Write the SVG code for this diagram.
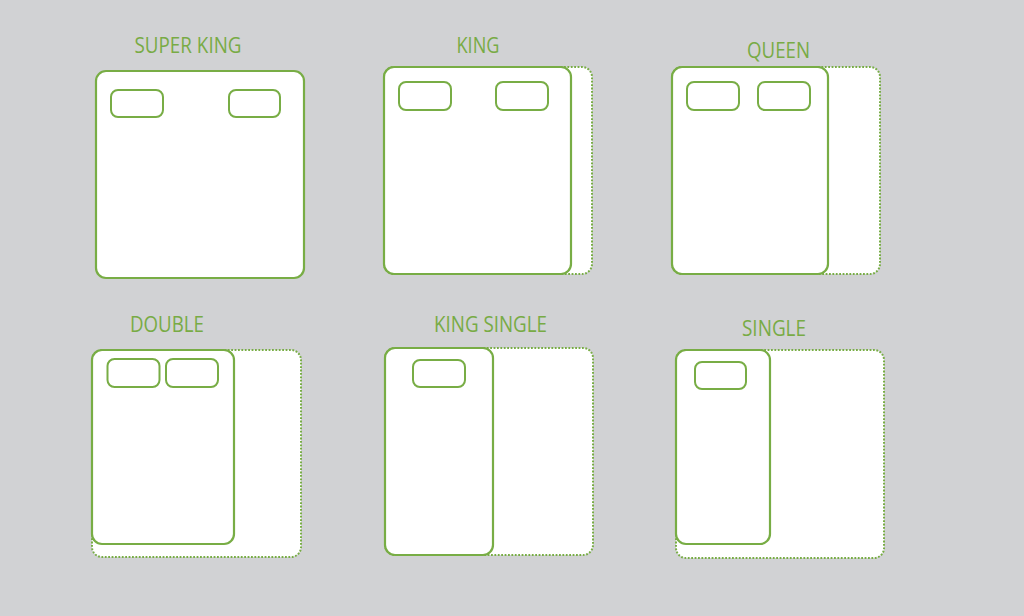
<svg xmlns="http://www.w3.org/2000/svg" width="1024" height="616" viewBox="0 0 1024 616">
<style>
.bg{fill:#d1d2d4}
.bed{fill:#fff;stroke:#78ad45;stroke-width:2.2}
.ghost{fill:#fff;stroke:#78ad45;stroke-width:2;stroke-dasharray:1.8 1.6}
.pil{fill:#fff;stroke:#78ad45;stroke-width:2}
.lbl{font-family:"Open Sans","Liberation Sans",sans-serif;font-size:22px;fill:#78ab45;text-anchor:middle}
</style>
<rect class="bg" width="1024" height="616"/>
<g id="super-king">
<text class="lbl" x="188" y="53" textLength="107" lengthAdjust="spacingAndGlyphs">SUPER KING</text>
<rect class="bed" x="96" y="71" width="208" height="207" rx="10"/>
<rect class="pil" x="111" y="90" width="52" height="27" rx="7"/>
<rect class="pil" x="229" y="90" width="51" height="27" rx="7"/>
</g>
<g id="king">
<text class="lbl" x="478" y="53" textLength="43" lengthAdjust="spacingAndGlyphs">KING</text>
<rect class="ghost" x="384" y="67" width="208" height="207" rx="10"/>
<rect class="bed" x="384" y="67" width="187" height="207" rx="10"/>
<rect class="pil" x="399" y="82" width="52" height="28" rx="7"/>
<rect class="pil" x="496" y="82" width="52" height="28" rx="7"/>
</g>
<g id="queen">
<text class="lbl" x="778.5" y="58" textLength="63" lengthAdjust="spacingAndGlyphs">QUEEN</text>
<rect class="ghost" x="672" y="67" width="208" height="207" rx="10"/>
<rect class="bed" x="672" y="67" width="156" height="207" rx="10"/>
<rect class="pil" x="687" y="82" width="52" height="28" rx="7"/>
<rect class="pil" x="758" y="82" width="52" height="28" rx="7"/>
</g>
<g id="double">
<text class="lbl" x="167" y="332" textLength="74" lengthAdjust="spacingAndGlyphs">DOUBLE</text>
<rect class="ghost" x="92" y="350" width="209" height="207" rx="10"/>
<rect class="bed" x="92" y="350" width="142" height="194" rx="10"/>
<rect class="pil" x="107.5" y="359" width="52" height="28" rx="7"/>
<rect class="pil" x="166" y="359" width="52" height="28" rx="7"/>
</g>
<g id="king-single">
<text class="lbl" x="490.5" y="332" textLength="113" lengthAdjust="spacingAndGlyphs">KING SINGLE</text>
<rect class="ghost" x="385" y="348" width="208" height="207" rx="10"/>
<rect class="bed" x="385" y="348" width="108" height="207" rx="10"/>
<rect class="pil" x="413" y="360" width="52" height="27" rx="7"/>
</g>
<g id="single">
<text class="lbl" x="774" y="336" textLength="64" lengthAdjust="spacingAndGlyphs">SINGLE</text>
<rect class="ghost" x="676" y="350" width="208" height="208" rx="10"/>
<rect class="bed" x="676" y="350" width="94" height="194" rx="10"/>
<rect class="pil" x="695" y="362" width="51" height="27" rx="7"/>
</g>
</svg>
